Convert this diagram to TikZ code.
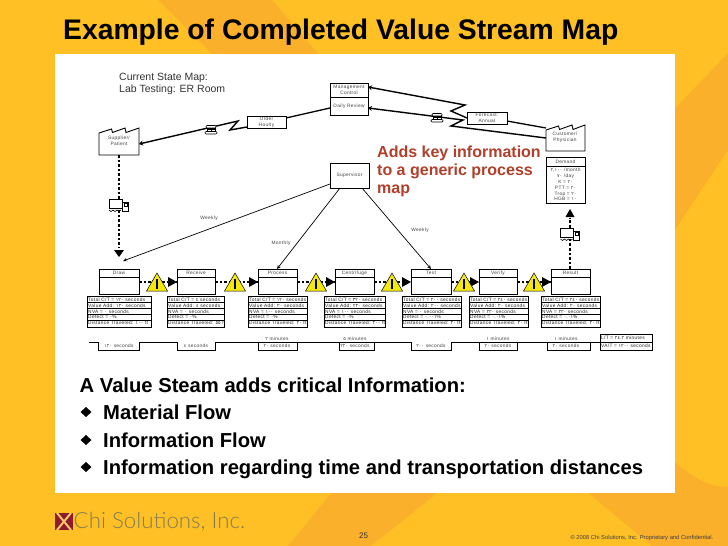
\documentclass[tikz,border=0pt]{standalone}
\usepackage{fontspec}
\usetikzlibrary{arrows.meta}
\setmainfont{Liberation Sans}
\newfontfamily\smallf[LetterSpace=7]{Liberation Sans}
\newfontfamily\ardig[Script=Arabic]{DejaVu Sans}
\newfontfamily\logof{Lato Light}
\newcommand{\ad}[1]{{\ardig #1}}
\definecolor{bgY}{HTML}{FEC024}
\definecolor{bgD}{HTML}{FBB02B}
\definecolor{redT}{HTML}{B0402A}
\definecolor{logoR}{HTML}{8E1B2E}
\definecolor{logoG}{HTML}{857D4F}
\tikzset{
  flowbox/.style={draw=black,line width=0.9pt,fill=white,inner sep=0pt,outer sep=0pt},
  tinyl/.style={font=\smallf\fontsize{4.8}{5.7}\selectfont,text=black!75,inner sep=0pt,align=center},
  rowl/.style={font=\smallf\fontsize{4.8}{5.7}\selectfont,text=black!85,inner sep=0pt,anchor=west},
  infoline/.style={line width=1.4pt,-{Stealth[length=4pt,width=5pt]}},
  infoplain/.style={line width=1.3pt},
  thinline/.style={line width=0.7pt,-{Stealth[length=4pt,width=3.5pt]}},
  pushline/.style={line width=2.6pt,dash pattern=on 2.6pt off 2pt},
  bigtext/.style={font=\bfseries\fontsize{16}{18}\selectfont,inner sep=0pt,anchor=base west},
  warntri/.style={fill=yellow!95!black,draw=black,line width=0.5pt,line join=miter},
  truckpic/.pic={
    \draw[fill=white,line width=0.8pt] (-10,-6.5) rectangle (3,3);
    \draw[fill=white,line width=0.8pt] (3,-3.5) rectangle (9,6);
    \draw[line width=0.8pt] (5,-2) rectangle (8,1);
    \draw[line width=0.6pt] (-10,4.5) -- (-8,6) -- (-6,4.5) -- (-4,6) -- (-2,4.5) -- (0,6) -- (2,4.5);
  },
  phonepic/.pic={
    \draw[fill=white,line width=0.7pt,rounded corners=1pt] (-5,-3.5) rectangle (5,-1);
    \draw[fill=white,line width=0.7pt] (-4,-1) rectangle (4,2.5);
    \draw[line width=0.6pt] (0,-1) -- (0,2.5) (-4,0.7) -- (4,0.7);
    \draw[fill=white,line width=0.7pt,rounded corners=1pt] (-6,2.5) rectangle (6,5);
  }
}
% process box: name, x1, x2, label
\newcommand{\procbox}[4]{
  \node[flowbox,anchor=north west,minimum width={#3-#2},minimum height=25] (#1) at (#2,269) {};
  \draw[line width=0.9pt] (#2,277) -- (#3,277);
  \node[tinyl] (#1-t) at ({(#2+#3)/2},273) {#4};
}
% metrics: name,x1,x2,ct,va,nva,defect,dist
\newcommand{\metrics}[8]{
  \node[flowbox,anchor=north west,minimum width={#3-#2},minimum height=31] (#1) at (#2,296.7) {};
  \foreach \yy in {302.3,308.7,314.3,320}{\draw[line width=0.9pt] (#2,\yy) -- (#3,\yy);}
  \node[rowl] (#1-a) at (#2+1,299.6) {Total C/T = #4 seconds};
  \node[rowl] (#1-b) at (#2+1,305.5) {Value Add: #5 seconds};
  \node[rowl] (#1-c) at (#2+1,311.6) {NVA = #6 seconds};
  \node[rowl] (#1-d) at (#2+1,317.2) {Defect = #7\%};
  \node[rowl] (#1-e) at (#2+1,322.8) {Distance Traveled: #8 ft};
}
% factory outline: name, x1, x2, top, bottom
\newcommand{\factory}[5]{
  \draw[fill=white,line width=0.9pt] (#2,#5) -- (#2,#4+5) -- (#2+12.5,#4+1) -- (#2+13.5,#4+4.5) -- (#2+26,#4) -- (#2+27,#4+4.5) -- (#3,#4) -- (#3,#5) -- cycle;
  \node[inner sep=0pt,outer sep=0pt,anchor=north west,minimum width={#3-#2},minimum height={#5-#4-5}] (#1) at (#2,#4+5) {};
}
% warning triangle: name, centre x
\newcommand{\warn}[2]{
  \node[inner sep=0pt,minimum width=21,minimum height=18] (#1) at (#2,282) {};
  \draw[warntri] (#2,273) -- (#2+10.5,291) -- (#2-10.5,291) -- cycle;
  \draw[line width=1.4pt] (#2,279) -- (#2,289);
}
\begin{document}
\begin{tikzpicture}[x=1pt,y=-1pt]
\useasboundingbox (0,0) rectangle (728,546);
\fill[bgY] (0,0) rectangle (728,546);
\fill[bgD] (158,0) -- (272,0) -- (320,56) -- (214,56) -- cycle;
\fill[bgD] (334,490) -- (441,490) -- (371,546) -- (288,546) -- cycle;
\fill[bgD] (585,490) -- (728,490) -- (728,546) -- (652,546) -- cycle;
\fill[bgD] (670,114) -- (728,53) -- (728,150) -- (670,237) -- cycle;
\fill[bgD] (670,458) .. controls (690,475) and (705,487) .. (728,487) -- (728,495) -- (670,495) -- cycle;
\fill[white] (55,54) rectangle (675,493);

\node[font=\bfseries\fontsize{28.3}{30}\selectfont,anchor=base west,inner sep=0pt] (title) at (63,39) {Example of Completed Value Stream Map};

\node[font=\fontsize{10.5}{12}\selectfont,text=black!80,anchor=base west,inner sep=0pt] (cs1) at (119,80) {Current State Map:};
\node[font=\fontsize{10.5}{12}\selectfont,text=black!80,anchor=base west,inner sep=0pt] (cs2) at (119,92) {Lab Testing: ER Room};

% information boxes
\node[flowbox,anchor=north west,minimum width=38,minimum height=32] (mgmt) at (330,83) {};
\draw[line width=0.9pt] (330,97) -- (368,97);
\node[tinyl] (mgmt-a) at (349,90) {Management\\Control};
\node[tinyl] (mgmt-b) at (349,106.5) {Daily Review};
\node[flowbox,anchor=north west,minimum width=39,minimum height=12,align=center] (order) at (247,116) {};
\node[tinyl] at (order.center) {Order\\Hourly};
\node[flowbox,anchor=north west,minimum width=40,minimum height=12] (forecast) at (467,112) {};
\node[tinyl] at (forecast.center) {Forecast:\\Annual};
\node[flowbox,anchor=north west,minimum width=39,minimum height=25] (sup) at (330,163) {};
\node[tinyl] at (sup.center) {Supervisor};

\factory{supplier}{99}{139}{128}{155}
\node[tinyl] at (119,141) {Supplier/\\Patient};
\factory{customer}{546}{585}{125}{151}
\node[tinyl] at (565,137) {Customer/\\Physician};

\node[flowbox,anchor=north west,minimum width=39,minimum height=46] (demand) at (546,157) {};
\draw[line width=0.9pt] (546,166) -- (585,166);
\node[tinyl] at (565.5,161.5) {Demand};
\node[tinyl,align=center] at (565.5,184.5) {\ad{٢,١٠٠} /month\\[0.2pt]\ad{٧٠} /day\\[0.2pt]K = \ad{٢٠}\\[0.2pt]PTT = \ad{٢٠}\\[0.2pt]Trop = \ad{٢٠}\\[0.2pt]HGB = \ad{١٠}};

% information flow
\draw[infoplain] (mgmt.west |- 0,108) -- (order.east |- 0,118);
\coordinate (zA) at (230,130);
\coordinate (zB) at (238,121);
\draw[infoline] (order.west |- 0,127) -- (zA) -- (zB) -- (supplier.east);
\pic at (211,129) {phonepic};

\coordinate (zC) at (465,105);
\coordinate (zD) at (451,111);
\draw[infoline] (forecast.west) -- (zD) -- (zC) -- (mgmt.east |- 0,87);
\draw[infoplain] (forecast.east |- 0,121) -- (customer.west |- 0,128);
\coordinate (zE) at (463,120);
\coordinate (zF) at (451,126);
\draw[infoline] (customer.west |- 0,138) -- (zF) -- (zE) -- (mgmt.east |- 0,108);
\pic at (437,117) {phonepic};

% process boxes
\procbox{draw}{99}{139}{Draw}
\procbox{receive}{177}{215}{Receive}
\procbox{process}{258}{297}{Process}
\procbox{centrifuge}{335}{374}{Centrifuge}
\procbox{test}{411}{451}{Test}
\procbox{verify}{479}{517}{Verify}
\procbox{result}{551}{590}{Result}

% thin information lines
\draw[thinline] (sup.west |- 0,184) -- (123,261);
\draw[thinline] (340,188) -- (process.north -| 277,0);
\draw[thinline] (362,188) -- (test.north -| 431,0);
\node[tinyl] (wk1) at (209,218) {Weekly};
\node[tinyl] (mo1) at (281,243) {Monthly};
\node[tinyl] (wk2) at (420,230) {Weekly};

% push arrows
\foreach \a/\b in {draw/receive,receive/process,process/centrifuge,centrifuge/test,test/verify,verify/result}{
  \draw[pushline] (\a.east |- 0,282) -- (\b.west |- 0,282);
  \fill[black] (\b.west |- 0,282) -- ++(-9,-5) -- ++(0,10) -- cycle;
}
\warn{w1}{157}
\warn{w2}{235}
\warn{w3}{316}
\warn{w4}{392}
\warn{w5}{464}
\warn{w6}{534}

% shipments
\coordinate (shipA) at (119,248);
\draw[pushline] (supplier.south) -- (shipA);
\fill[black] (114,250) -- (124,250) -- (119,257) -- cycle;
\pic at (119,205.5) {truckpic};
\coordinate (shipB) at (570,218);
\draw[pushline] (result.north -| 570,0) -- (shipB);
\fill[black] (565.5,217) -- (574.5,217) -- (570,209) -- cycle;
\pic at (570.5,234.5) {truckpic};

% metrics
\metrics{m1}{87}{151}{\ad{١٢٠}}{\ad{١٢٠}}{\ad{٠}}{\ad{٠}}{\ad{١٠٠}}
\metrics{m2}{167}{224}{\ad{٤}}{\ad{٤}}{\ad{٠}}{\ad{٠}}{\ad{٥٥}}
\metrics{m3}{248}{307}{\ad{١٢٠}}{\ad{٢٠}}{\ad{١٠٠}}{\ad{٠}}{\ad{٢٠}}
\metrics{m4}{324}{385}{\ad{٣٢٠}}{\ad{٢٢٠}}{\ad{١٠٠}}{\ad{٠}}{\ad{٢٠٠}}
\metrics{m5}{402}{461}{\ad{٢٠٠}}{\ad{٢٠٠}}{\ad{٠}}{\ad{٠.٠٠١}}{\ad{٢٠}}
\metrics{m6}{469}{528}{\ad{٢٤٠}}{\ad{٢٠}}{\ad{٢٢٠}}{\ad{٠.٠١}}{\ad{٢٠}}
\metrics{m7}{541}{600}{\ad{٢٤٠}}{\ad{٢٠}}{\ad{٢٢٠}}{\ad{٠.٠١}}{\ad{٢٠}}

% timeline
\draw[line width=0.9pt] (89,342) -- (98,342) -- (98,350) -- (139,350) -- (139,342) -- (177,342) -- (177,350) -- (215,350) -- (215,342) -- (258,342) -- (258,350) -- (297,350) -- (297,342) -- (339,342) -- (339,350) -- (374,350) -- (374,342) -- (411,342) -- (411,350) -- (451,350) -- (451,342) -- (479,342) -- (479,350) -- (517,350) -- (517,342) -- (547,342) -- (547,350) -- (590,350) -- (590,342) -- (600,342);
\draw[line width=0.9pt] (258,342) -- (297,342);
\draw[line width=0.9pt] (339,342) -- (374,342);
\draw[line width=0.9pt] (479,342) -- (517,342);
\draw[line width=0.9pt] (547,342) -- (590,342);
\node[tinyl] (t1) at (119,346) {\ad{١٢٠} seconds};
\node[tinyl] (t2) at (196,346) {\ad{٤} seconds};
\node[tinyl] (t3a) at (277,339) {\ad{٢} minutes};
\node[tinyl] (t3b) at (277,346) {\ad{٢٠} seconds};
\node[tinyl] (t4a) at (355,339) {\ad{٥} minutes};
\node[tinyl] (t4b) at (355,346) {\ad{٢٢٠} seconds};
\node[tinyl] (t5) at (431,346) {\ad{٢٠٠} seconds};
\node[tinyl] (t6a) at (498,339) {\ad{١} minutes};
\node[tinyl] (t6b) at (498,346) {\ad{٢٠} seconds};
\node[tinyl] (t7a) at (566,339) {\ad{١} minutes};
\node[tinyl] (t7b) at (566,346) {\ad{٢٠} seconds};
\node[flowbox,anchor=north west,minimum width=52,minimum height=16] (tot) at (600,334) {};
\draw[line width=0.9pt] (600,342) -- (652,342);
\node[rowl] (tot-a) at (601,338) {L/T = \ad{٢٤.٢} minutes};
\node[rowl] (tot-b) at (601,346) {VA/T = \ad{١٢٠٠} seconds};

% red note
\node[bigtext,text=redT] (n1) at (377,157) {Adds key information};
\node[bigtext,text=redT] (n2) at (377,175) {to a generic process};
\node[bigtext,text=redT] (n3) at (377,193) {map};

% bottom text
\tikzset{bl/.style={font=\bfseries\fontsize{20.2}{22}\selectfont,anchor=base west,inner sep=0pt}}
\node[bl] (b0) at (79.5,392) {A Value Steam adds critical Information:};
\node[bl] (b1) at (103,419) {Material Flow};
\node[bl] (b2) at (103,447) {Information Flow};
\node[bl] (b3) at (103,474) {Information regarding time and transportation distances};
\foreach \yy in {412,440,467}{\fill[black] (86,\yy-5) -- (91.5,\yy) -- (86,\yy+5) -- (80.5,\yy) -- cycle;}

% footer
\fill[logoR] (55,513) rectangle (73,530);
\draw[bgD!70!white,line width=2pt] (57,513) -- (71,530) (71,513) -- (57,530);
\node[font=\logof\fontsize{22.3}{26}\selectfont,text=logoG,anchor=base west,inner sep=0pt] (logo) at (73.5,528) {Chi Solutions, Inc.};
\node[font=\fontsize{8}{9}\selectfont,text=black!80,inner sep=0pt] (pg) at (363.5,536) {25};
\node[font=\fontsize{5.8}{7}\selectfont,text=black!75,anchor=base east,inner sep=0pt] (copy) at (713.5,539.5) {© 2008 Chi Solutions, Inc. Proprietary and Confidential.};
\end{tikzpicture}
\end{document}
